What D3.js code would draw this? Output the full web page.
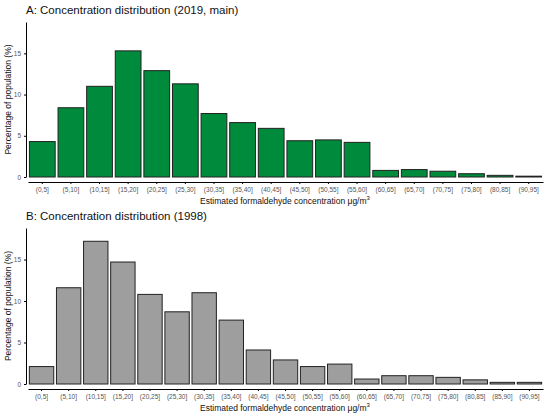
<!DOCTYPE html><html><head><script src="https://cdn.jsdelivr.net/npm/d3@7"></script>
<style>body{margin:0;background:#fff}text{font-family:"Liberation Sans",Arial,sans-serif}</style></head><body>
<script>
const catsA=["(0,5]","(5,10]","(10,15]","(15,20]","(20,25]","(25,30]","(30,35]","(35,40]","(40,45]","(45,50]","(50,55]","(55,60]","(60,65]","(65,70]","(70,75]","(75,80]","(80,85]","(90,95]"];
const valsA=[4.3,8.4,11.0,15.3,12.9,11.3,7.7,6.6,5.9,4.4,4.5,4.2,0.8,0.9,0.7,0.4,0.2,0.1];
const catsB=["(0,5]","(5,10]","(10,15]","(15,20]","(20,25]","(25,30]","(30,35]","(35,40]","(40,45]","(45,50]","(50,55]","(55,60]","(60,65]","(65,70]","(70,75]","(75,80]","(80,85]","(85,90]","(90,95]"];
const valsB=[2.1,11.6,17.2,14.7,10.8,8.7,11.0,7.7,4.1,2.9,2.1,2.4,0.6,1.0,1.0,0.8,0.5,0.2,0.2];
const yTicks=[0,5,10,15];
const svg=d3.select("body").append("svg").attr("width",550).attr("height",419);
function panel(title,cats,vals,color,top,zero){
  const g=svg.append("g");
  const x=d3.scaleBand().domain(cats).range([28,543]).paddingInner(0.1).paddingOuter(0.05);
  const y=d3.scaleLinear().domain([0,18.8]).range([zero,top]);
  g.append("text").attr("x",26).attr("y",top-8).attr("font-size",11.5).attr("fill","#111").text(title);
  g.selectAll("rect").data(vals).join("rect").attr("x",(d,i)=>x(cats[i])).attr("width",x.bandwidth())
   .attr("y",d=>y(d)).attr("height",d=>y(0)-y(d)).attr("fill",color).attr("stroke","#222").attr("stroke-width",1);
  const ax=g.append("g").attr("transform",`translate(0,${zero+5})`).call(d3.axisBottom(x).tickSize(2).tickSizeOuter(0));
  ax.select(".domain").attr("stroke","#000");
  ax.selectAll("text").attr("font-size",6.5).attr("fill","#555");
  const ay=g.append("g").attr("transform","translate(26,0)").call(d3.axisLeft(y).tickValues(yTicks).tickSize(2).tickSizeOuter(0));
  ay.select(".domain").attr("stroke","#000");
  ay.selectAll("text").attr("font-size",6.5).attr("fill","#555");
  const xt=g.append("text").attr("x",285).attr("y",zero+27).attr("text-anchor","middle").attr("font-size",8.5).attr("fill","#111");
  xt.append("tspan").text("Estimated formaldehyde concentration  μg/m");
  xt.append("tspan").attr("dy",-4).attr("font-size",6).text("3");
  g.append("text").attr("transform",`translate(11,${(top+zero)/2}) rotate(-90)`).attr("text-anchor","middle").attr("font-size",8.5).attr("fill","#111").text("Percentage of population (%)");
}
panel("A: Concentration distribution (2019, main)",catsA,valsA,"#008a3b",22,177);
panel("B: Concentration distribution (1998)",catsB,valsB,"#9e9e9e",228,384);
</script></body></html>
